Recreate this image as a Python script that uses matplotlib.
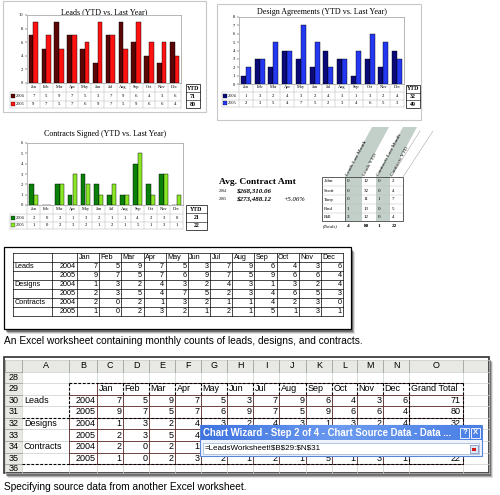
import numpy as np
import matplotlib
matplotlib.use('Agg')
import matplotlib.pyplot as plt
from matplotlib import rcParams
from matplotlib.patches import Rectangle, Polygon

rcParams['font.family'] = 'Liberation Serif'

W, H = 500, 495

months = ['Jan', 'Feb', 'Mar', 'Apr', 'May', 'Jun', 'Jul', 'Aug', 'Sep', 'Oct', 'Nov', 'Dec']
years = ['2004', '2005']

leads04 = [7, 5, 9, 7, 5, 3, 7, 9, 6, 4, 3, 6]
leads05 = [9, 7, 5, 7, 6, 9, 7, 5, 9, 6, 6, 4]
design04 = [1, 3, 2, 4, 3, 2, 4, 3, 1, 3, 2, 4]
design05 = [2, 3, 5, 4, 7, 5, 2, 3, 4, 6, 5, 3]
contr04 = [2, 0, 2, 1, 3, 2, 1, 1, 4, 2, 3, 0]
contr05 = [1, 0, 2, 3, 2, 1, 2, 1, 5, 1, 3, 1]

people = ['John', 'Scott', 'Tony', 'Paul', 'Bill']
leads_last_month = [0, 0, 0, 1, 3]
leads_ytd = [12, 32, 11, 13, 12]
contr_last_month = [0, 0, 1, 0, 0]
contr_ytd = [2, 4, 7, 5, 4]
rep_headers = ['Leads Last Month', 'Leads YTD', 'Contracts Last Month', 'Contracts YTD']

avg_amt = ['$268,310.06', '$273,488.12']
avg_change = '+5.06%'

fig = plt.figure(figsize=(W/100, H/100), dpi=100)
ov = fig.add_axes([0, 0, 1, 1])
ov.set_xlim(0, W)
ov.set_ylim(H, 0)
ov.axis('off')

def fbox(x0, y0, x1, y1):
    return [x0/W, 1 - y1/H, (x1-x0)/W, (y1-y0)/H]

def bar_panel(box, title, title_y, v04, v05, ymax, cols, rows_y, lab_x, ytd_box):
    x0, y0, x1, y1 = box
    ax = fig.add_axes(fbox(*box))
    x = np.arange(len(months))
    ax.bar(x - 0.18, v04, 0.36, color=cols[0], ec='black', lw=0.3)
    ax.bar(x + 0.18, v05, 0.36, color=cols[1], ec='black', lw=0.3)
    ax.set_xlim(-0.5, 11.5)
    ax.set_ylim(0, ymax)
    step = 2 if ymax == 10 else 1
    ax.set_yticks(np.arange(0, ymax + 1, step))
    ax.set_xticks([])
    ax.tick_params(axis='y', labelsize=3.3, length=1.2, width=0.3, pad=1.5)
    for s in ax.spines.values():
        s.set_color('#999999')
        s.set_linewidth(0.5)
    ov.text((x0 + x1)/2, title_y, title, fontsize=5.8, ha='center', va='center')

    tr = ax.get_xaxis_transform()
    def fy(ypx):
        return (y1 - ypx) / (y1 - y0)
    my, r1, r2, bot = rows_y
    for i, m in enumerate(months):
        ax.text(i, fy(my), m, fontsize=3.2, ha='center', va='center', transform=tr, clip_on=False)
        ax.text(i, fy(r1), str(v04[i]), fontsize=3.4, ha='center', va='center', transform=tr, clip_on=False)
        ax.text(i, fy(r2), str(v05[i]), fontsize=3.4, ha='center', va='center', transform=tr, clip_on=False)
    for b in np.arange(-0.5, 12, 1):
        ax.plot([b, b], [0, fy(bot)], transform=tr, clip_on=False, color='#aaaaaa', lw=0.3)
    # table rules and legend keys
    ov.plot([lab_x, x1], [(my + r1)/2 + 0.5]*2, color='#aaaaaa', lw=0.3)
    ov.plot([lab_x, x1], [(r1 + r2)/2 + 0.5]*2, color='#aaaaaa', lw=0.3)
    ov.plot([lab_x, x1], [bot, bot], color='#aaaaaa', lw=0.3)
    ov.plot([lab_x, lab_x], [(my + r1)/2 + 0.5, bot], color='#aaaaaa', lw=0.3)
    for yy, c, yr in [(r1, cols[0], years[0]), (r2, cols[1], years[1])]:
        ov.add_patch(Rectangle((lab_x + 1, yy - 1.8), 3.5, 3.5, fc=c, ec='black', lw=0.2))
        ov.text(lab_x + 5.5, yy, yr, fontsize=3.2, va='center')
    bx0, by0, bx1, by1, ytd = ytd_box
    ov.add_patch(Rectangle((bx0, by0), bx1 - bx0, by1 - by0, fc='white', ec='black', lw=0.5))
    h3 = (by1 - by0) / 3
    for k in (1, 2):
        ov.plot([bx0, bx1], [by0 + k*h3]*2, color='black', lw=0.4)
    ov.text((bx0+bx1)/2, by0 + h3*0.5, 'YTD', fontsize=4.2, weight='bold', ha='center', va='center')
    ov.text((bx0+bx1)/2, by0 + h3*1.5, str(ytd[0]), fontsize=4.2, weight='bold', ha='center', va='center')
    ov.text((bx0+bx1)/2, by0 + h3*2.5, str(ytd[1]), fontsize=4.2, weight='bold', ha='center', va='center')
    return ax

# panel frames
ov.add_patch(Rectangle((3, 1), 203, 111, fc='white', ec='#c8c8c8', lw=0.8))
ov.add_patch(Rectangle((217, 4), 204, 116, fc='white', ec='#c8c8c8', lw=0.8))

bar_panel((27, 15, 181, 83), 'Leads (YTD vs. Last Year)', 12, leads04, leads05, 10,
          ['#5a0606', '#ff1212'], (87, 96, 104, 108), 10,
          (186, 84, 200, 108, [sum(leads04), sum(leads05)]))
bar_panel((239, 17, 404, 84), 'Design Agreements (YTD vs. Last Year)', 12, design04, design05, 8,
          ['#0a0a78', '#2438f2'], (87, 96, 103, 107), 222,
          (406, 85, 420, 108, [sum(design04), sum(design05)]))
bar_panel((27, 143, 183, 205), 'Contracts Signed (YTD vs. Last Year)', 134, contr04, contr05, 6,
          ['#0a800a', '#8be628'], (209, 218, 225, 229), 10,
          (186, 205, 207, 230, [sum(contr04), sum(contr05)]))

# average contract amount
ov.text(219, 182, 'Avg. Contract Amt', fontsize=6.8, weight='bold', va='center')
ov.text(219, 191, years[0], fontsize=3, va='center')
ov.text(236, 191, avg_amt[0], fontsize=5, weight='bold', style='italic', va='center')
ov.text(219, 199.5, years[1], fontsize=3, va='center')
ov.text(236, 199.5, avg_amt[1], fontsize=5, weight='bold', style='italic', va='center')
ov.text(283, 199.5, avg_change, fontsize=4.8, style='italic', va='center')

# sales rep table with slanted headers
col_x = [322, 345, 362, 376, 390, 403]
row_y = [177, 186, 195, 204, 213, 221]
dx, dy = 27, 50
band = '#c3cfc9'
for k in (1, 3):
    xa, xb = col_x[k], col_x[k+1]
    ov.add_patch(Polygon([(xa, row_y[-1]), (xb, row_y[-1]), (xb, row_y[0]), (xb + dx, row_y[0] - dy),
                          (xa + dx, row_y[0] - dy), (xa, row_y[0])], closed=True, fc=band, ec='none'))
ov.plot([col_x[4] + 1, col_x[4] + dx + 3], [row_y[0], row_y[0] - dy + 4], color='#aaaaaa', lw=0.4)
ov.plot([col_x[5], col_x[5] + dx + 3], [row_y[0], row_y[0] - dy + 4], color='#aaaaaa', lw=0.4)
for k, lab in enumerate(rep_headers):
    ov.text(col_x[k+1] + 4, row_y[0] - 1, lab, fontsize=3.9, rotation=61.6,
            rotation_mode='anchor', ha='left', va='bottom')
ov.add_patch(Rectangle((col_x[0], row_y[0]), col_x[-1] - col_x[0], row_y[-1] - row_y[0],
                       fc='none', ec='#444444', lw=0.6))
for yy in row_y[1:-1]:
    ov.plot([col_x[0], col_x[-1]], [yy, yy], color='#bbbbbb', lw=0.3)
ov.plot([col_x[1], col_x[1]], [row_y[0], row_y[-1]], color='#444444', lw=0.5)
for i, p in enumerate(people):
    yc = (row_y[i] + row_y[i+1]) / 2
    ov.text(col_x[0] + 1.5, yc, p, fontsize=3.6, va='center')
    for k, v in enumerate([leads_last_month[i], leads_ytd[i], contr_last_month[i], contr_ytd[i]]):
        ov.text(col_x[k+1] + 2, yc, str(v), fontsize=3.6, va='center')
ov.text(col_x[0] + 1, row_y[-1] + 5, '(Totals)', fontsize=3.4, style='italic', va='center')
for k, vals in enumerate([leads_last_month, leads_ytd, contr_last_month, contr_ytd]):
    ov.text(col_x[k+1] + 2, row_y[-1] + 5, str(sum(vals)), fontsize=3.8, weight='bold', va='center')

# ---- first worksheet picture ----
sans = 'Liberation Sans'
row_labels = ['Leads', 'Designs', 'Contracts']
sheet_rows = [leads04, leads05, design04, design05, contr04, contr05]

def shadow_frame(x0, y0, x1, y1):
    for k, a in enumerate([0.35, 0.22, 0.12]):
        ov.add_patch(Rectangle((x0 + 2 + k, y0 + 3 + k), x1 - x0, y1 - y0, fc='#000000', alpha=a, ec='none'))

shadow_frame(4, 247, 351, 329)
ov.add_patch(Rectangle((4, 247), 347, 82, fc='white', ec='black', lw=0.9))
w1 = [13, 52, 77] + list(np.linspace(77, 343, 13)[1:])
h1 = [253 + 9*k for k in range(8)]
for xx in w1:
    ov.plot([xx, xx], [h1[0], h1[-1]], color='black', lw=0.5)
for yy in h1:
    ov.plot([w1[0], w1[-1]], [yy, yy], color='black', lw=0.5)
for j, m in enumerate(months):
    ov.text(w1[j+2] + 1.5, (h1[0] + h1[1])/2, m, fontsize=5.2, family=sans, va='center')
for r, vals in enumerate(sheet_rows):
    yc = (h1[r+1] + h1[r+2]) / 2
    if r % 2 == 0:
        ov.text(w1[0] + 1.5, yc, row_labels[r//2], fontsize=5.2, family=sans, va='center')
    ov.text(w1[2] - 1.5, yc, years[r % 2], fontsize=5.2, family=sans, va='center', ha='right')
    for j, v in enumerate(vals):
        ov.text(w1[j+3] - 1.5, yc, str(v), fontsize=5.2, family=sans, va='center', ha='right')
ov.text(4, 341, 'An Excel worksheet containing monthly counts of leads, designs, and contracts.',
        fontsize=7.3, family=sans, va='center')

# ---- second worksheet picture ----
shadow_frame(4, 357, 489, 473)
ov.add_patch(Rectangle((4, 357), 485, 116, fc='white', ec='none'))
cx = [5, 22, 69, 97, 123, 149, 175, 201, 227, 253, 279, 306, 332, 357, 383, 409, 463, 489]
ry = [360, 371.5, 383, 394.6, 406.2, 417.8, 429.4, 441, 452.6, 464.2, 473]
col_letters = list('ABCDEFGHIJKLMNOP')
dlg = (200, 425, 482, 456)

def hidden(xr, yc):
    # cell text sitting behind the wizard dialog
    return xr > dlg[0] and dlg[1] < yc < dlg[3]

ov.add_patch(Rectangle((cx[0], ry[0]), cx[-1] - cx[0], ry[1] - ry[0], fc='#e8e8e4', ec='none'))
ov.add_patch(Rectangle((cx[0], ry[0]), cx[1] - cx[0], ry[-1] - ry[0], fc='#e8e8e4', ec='none'))
for xx in cx:
    ov.plot([xx, xx], [ry[0], ry[-1]], color='#c6d0c6', lw=0.5)
for yy in ry:
    ov.plot([cx[0], cx[-1]], [yy, yy], color='#c6d0c6', lw=0.5)
for xx in cx[:-1]:
    ov.plot([xx, xx], [ry[0], ry[1]], color='#9a9a9a', lw=0.5)
for yy in ry[1:]:
    ov.plot([cx[0], cx[1]], [yy, yy], color='#9a9a9a', lw=0.5)
for j, L in enumerate(col_letters[:-1]):
    ov.text((cx[j+1] + cx[j+2])/2, (ry[0] + ry[1])/2, L, fontsize=6.5, family=sans, ha='center', va='center')
for i in range(9):
    ov.text((cx[0] + cx[1])/2, (ry[i+1] + ry[i+2])/2, str(28 + i), fontsize=6.5, family=sans,
            ha='center', va='center')
# cell borders of the data block
brd = '#5a2a2a'
for yy in ry[2:10]:
    ov.plot([cx[3], cx[16]], [yy, yy], color=brd, lw=0.6)
for yy in ry[4:10]:
    ov.plot([cx[2], cx[3]], [yy, yy], color=brd, lw=0.6)
for xx in cx[3:17]:
    ov.plot([xx, xx], [ry[3], ry[9]], color=brd, lw=0.6)
ov.plot([cx[3], cx[3]], [ry[2], ry[3]], color=brd, lw=0.6)
ov.plot([cx[2], cx[2]], [ry[5], ry[9]], color=brd, lw=0.6)
ov.plot([cx[2], cx[3]], [ry[3], ry[3]], color=brd, lw=0.6)
for j, m in enumerate(months):
    ov.text(cx[j+3] + 1.5, (ry[2] + ry[3])/2, m, fontsize=6.5, family=sans, va='center')
ov.text(cx[15] + 2, (ry[2] + ry[3])/2, 'Grand Total', fontsize=6.5, family=sans, va='center')
for r, vals in enumerate(sheet_rows):
    yc = (ry[r+3] + ry[r+4]) / 2
    if r % 2 == 0:
        ov.text(cx[1] + 2, yc, row_labels[r//2], fontsize=6.5, family=sans, va='center')
    ov.text(cx[3] - 1.5, yc, years[r % 2], fontsize=6.5, family=sans, va='center', ha='right')
    for j, v in enumerate(vals):
        if not hidden(cx[j+4] - 1.5, yc):
            ov.text(cx[j+4] - 1.5, yc, str(v), fontsize=6.5, family=sans, va='center', ha='right')
    if not hidden(cx[16] - 2, yc):
        ov.text(cx[16] - 2, yc, str(sum(vals)), fontsize=6.5, family=sans, va='center', ha='right')
# marching ants
ants = dict(color='black', lw=0.8, ls=(0, (2.5, 1.5)))
ov.plot([cx[2], cx[16]], [ry[2], ry[2]], **ants)
ov.plot([cx[2], cx[2]], [ry[2], ry[5]], **ants)
ov.plot([cx[1], cx[16]], [ry[5], ry[5]], **ants)
ov.plot([cx[1], cx[16]], [ry[9], ry[9]], **ants)
ov.plot([cx[15], cx[15]], [ry[2], ry[9]], **ants)
ov.plot([cx[16], cx[16]], [ry[2], ry[9]], **ants)
for xx in cx[4:15]:
    ov.plot([xx, xx], [ry[2], ry[3]], **ants)
ov.add_patch(Rectangle((4, 357), 485, 116, fc='none', ec='#303030', lw=1.2))

# chart wizard dialog
ov.add_patch(Rectangle((dlg[0], dlg[1]), dlg[2] - dlg[0], dlg[3] - dlg[1], fc='#eef3fb',
                       ec='#5b86d8', lw=0.8, zorder=5))
grad = np.linspace(0, 1, 64).reshape(1, -1)
ov.imshow(grad, extent=(200.5, 481.5, 440.5, 425.5), cmap=matplotlib.colors.LinearSegmentedColormap.from_list(
    'tb', ['#3f74e0', '#6b9af0', '#4a7fe4']), aspect='auto', zorder=6)
ov.text(203, 433, 'Chart Wizard - Step 2 of 4 - Chart Source Data - Data ...', fontsize=6.9,
        family=sans, color='white', weight='bold', va='center', zorder=7)
for bxl, sym in [(460, '?'), (471, 'X')]:
    ov.add_patch(Rectangle((bxl, 427.5), 9, 10, fc='#4f82e6', ec='white', lw=0.6, zorder=7))
    ov.text(bxl + 4.5, 432.5, sym, fontsize=5.5, family=sans, color='white', weight='bold',
            ha='center', va='center', zorder=8)
ov.add_patch(Rectangle((203, 443), 276, 11, fc='white', ec='#9ab0d8', lw=0.5, zorder=7))
ov.text(204.5, 448.5, r'=LeadsWorksheet!\$B\$29:\$N\$31', fontsize=5.8, family=sans, va='center', zorder=8)
ov.add_patch(Rectangle((470, 444.5), 8, 8, fc='#dde6f5', ec='#506aa0', lw=0.4, zorder=8))
ov.add_patch(Rectangle((472, 448), 4, 3, fc='#d01818', ec='none', zorder=9))
ov.set_xlim(0, W)
ov.set_ylim(H, 0)

ov.text(4, 487, 'Specifying source data from another Excel worksheet.', fontsize=7.3, family=sans, va='center')

fig.savefig('out.png', dpi=100)
